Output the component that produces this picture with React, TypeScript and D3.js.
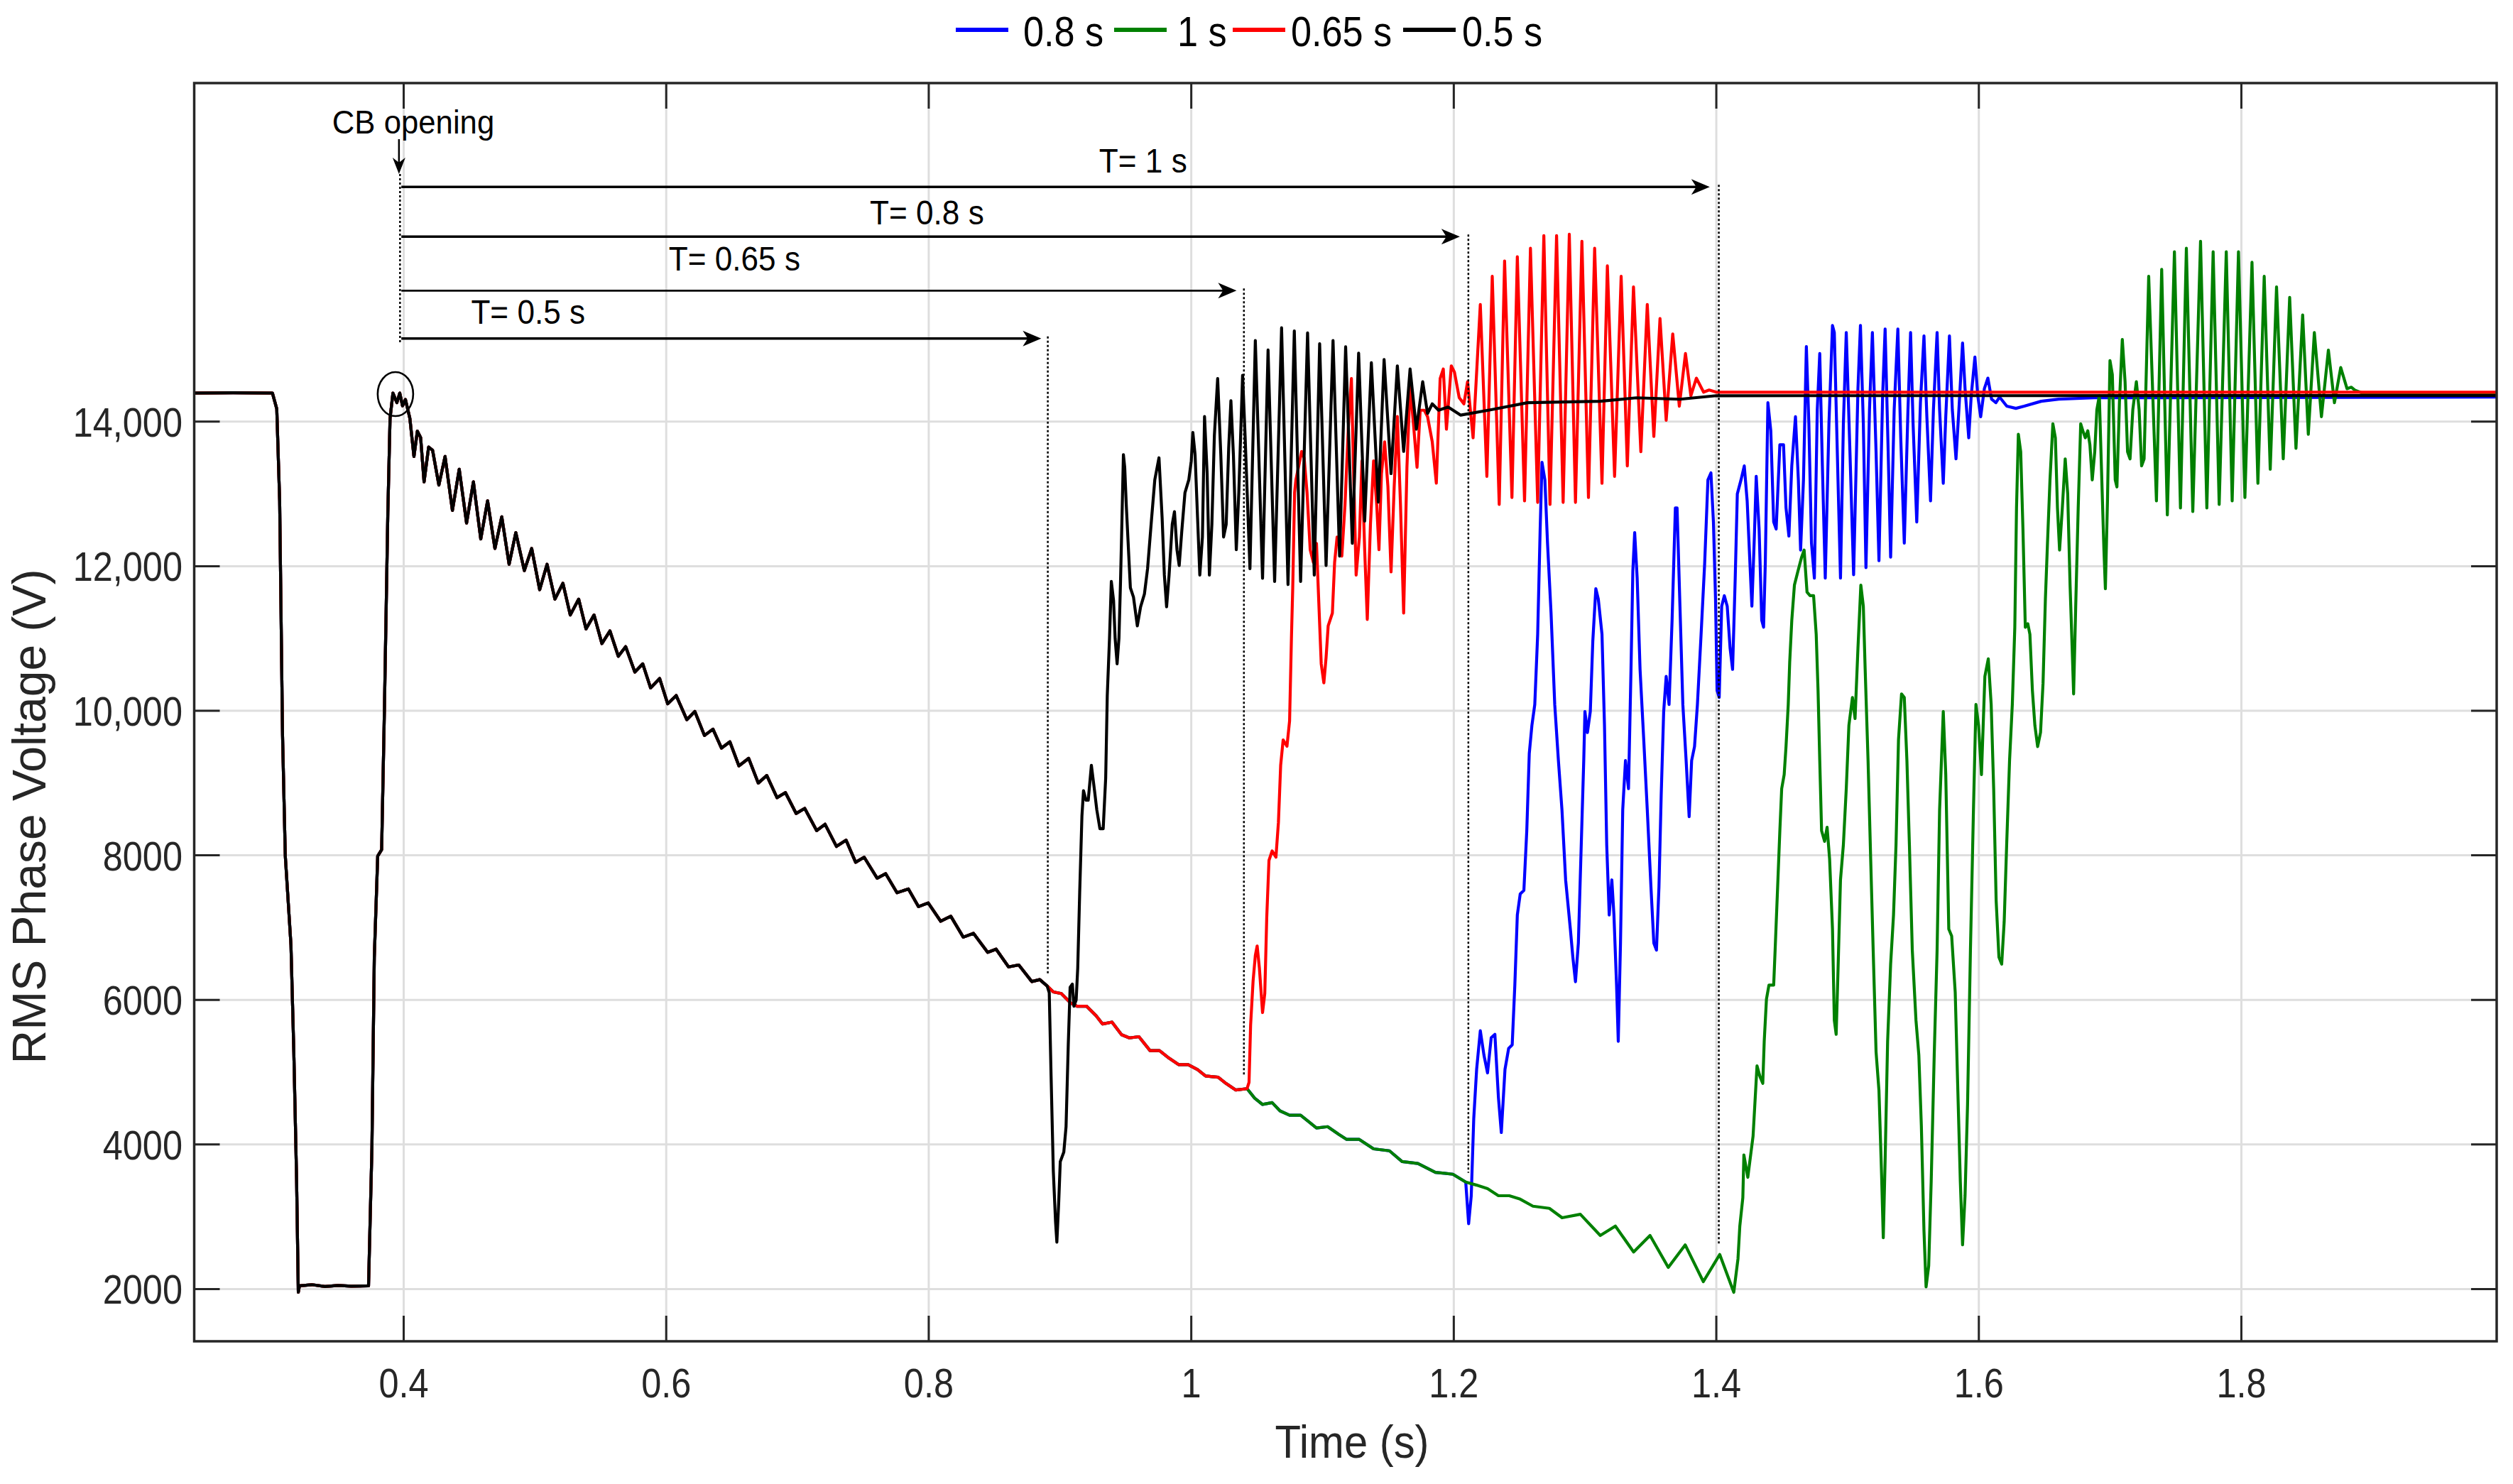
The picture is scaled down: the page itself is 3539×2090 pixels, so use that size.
import React from "react";
import * as d3 from "d3";

type P = [number, number];

// ---- Data (time s, RMS phase voltage V) ----
const preFault: P[] = [
  [0.2404, 14395], [0.27, 14400], [0.3, 14395], [0.3033, 14176], [0.3055, 12904], [0.3077, 9658],
  [0.3098, 7991], [0.3141, 6763], [0.3163, 5272], [0.3184, 3518], [0.3197, 1956], [0.3206, 2044],
  [0.33, 2060], [0.34, 2035], [0.35, 2050], [0.36, 2040], [0.3732, 2044], [0.3758, 3956],
  [0.3776, 6588], [0.3802, 7991], [0.3832, 8079], [0.3853, 10009], [0.3879, 12728], [0.3896, 14044],
  [0.3918, 14395], [0.3948, 14263], [0.397, 14395], [0.3991, 14219], [0.4013, 14307],
];

const decayShared: P[] = [
  [0.4047, 14044], [0.4078, 13518], [0.4104, 13869], [0.4129, 13781], [0.4155, 13167], [0.419, 13649],
  [0.422, 13605], [0.4268, 13123], [0.4315, 13518], [0.4371, 12772], [0.4423, 13342], [0.4479, 12597],
  [0.4531, 13167], [0.4587, 12377], [0.4639, 12904], [0.4695, 12245], [0.4747, 12684], [0.4803, 12026],
  [0.4854, 12465], [0.4919, 11939], [0.4975, 12245], [0.5036, 11675], [0.5092, 12026], [0.5152, 11544],
  [0.5213, 11763], [0.5269, 11325], [0.5333, 11544], [0.5389, 11132], [0.545, 11325], [0.551, 10930],
  [0.5571, 11105], [0.5635, 10754], [0.5691, 10886], [0.5761, 10535], [0.5821, 10649], [0.5881, 10316],
  [0.595, 10447], [0.6011, 10097], [0.6076, 10211], [0.6157, 9877], [0.6218, 9991], [0.6291, 9658],
  [0.6356, 9746], [0.6421, 9483], [0.6485, 9570], [0.6554, 9237], [0.6628, 9342], [0.6701, 9000],
  [0.6766, 9105], [0.6844, 8798], [0.6908, 8868], [0.699, 8579], [0.7055, 8649], [0.7146, 8342],
  [0.721, 8430], [0.7297, 8123], [0.737, 8211], [0.7443, 7904], [0.7508, 7974], [0.7607, 7684],
  [0.7672, 7746], [0.7758, 7483], [0.7845, 7535], [0.7922, 7290], [0.7996, 7342], [0.8091, 7088],
  [0.8168, 7158], [0.8263, 6868], [0.8341, 6921], [0.8449, 6658], [0.8513, 6702], [0.8608, 6456],
  [0.8686, 6483], [0.8785, 6254], [0.8846, 6281], [0.8902, 6193],
];

const recovery05: P[] = [
  [0.8918, 6100], [0.8932, 4947], [0.8949, 3632], [0.8966, 2930], [0.8976, 2649], [0.899, 3193],
  [0.9002, 3763], [0.9029, 3895], [0.9046, 4246], [0.9063, 5386], [0.9077, 6175], [0.9094, 6219],
  [0.9106, 5912], [0.9123, 6000], [0.9135, 6439], [0.915, 7491], [0.9167, 8544], [0.9179, 8895],
  [0.9198, 8763], [0.9215, 8763], [0.9239, 9246], [0.9263, 8895], [0.928, 8632], [0.9304, 8368],
  [0.9329, 8368], [0.9348, 9070], [0.936, 10210], [0.9377, 11000], [0.9391, 11789], [0.9408, 11526],
  [0.942, 11000], [0.9435, 10649], [0.9449, 11000], [0.9461, 11789], [0.9469, 12404], [0.9483, 13544],
  [0.9493, 13368], [0.9505, 12842], [0.9524, 12140], [0.9536, 11702], [0.956, 11570], [0.9589, 11175],
  [0.9614, 11439], [0.9643, 11614], [0.9667, 11965], [0.9698, 12667], [0.9722, 13193], [0.9754, 13500],
  [0.9778, 12667], [0.9795, 11877], [0.9812, 11439], [0.9831, 11877], [0.9855, 12579], [0.9872, 12754],
  [0.9891, 12228], [0.9908, 12009], [0.9928, 12491], [0.9952, 13018], [0.9981, 13193], [1.0, 13456],
  [1.0012, 13851], [1.0029, 13544], [1.0048, 12667], [1.0065, 11877], [1.0085, 12404], [1.0101, 14070],
  [1.0121, 13281], [1.0138, 11877], [1.0157, 12579], [1.0176, 13807], [1.0201, 14596], [1.0225, 13544],
  [1.0246, 12404], [1.0266, 12579], [1.0285, 13632], [1.0302, 14290], [1.0321, 13544], [1.0343, 12228],
  [1.0362, 13018], [1.0391, 14640], [1.041, 13807], [1.0447, 11965], [1.0488, 15123], [1.0543, 11833],
  [1.0585, 14991], [1.0635, 11789], [1.0688, 15298], [1.0737, 11746], [1.0785, 15255], [1.0833, 11789],
  [1.0886, 15228], [1.0937, 11877], [1.0978, 15079], [1.1027, 12009], [1.108, 15123], [1.113, 12140],
  [1.1176, 15035], [1.1227, 12316], [1.1275, 14947], [1.1321, 12623], [1.1372, 14816], [1.1425, 12886],
  [1.1469, 14860], [1.1522, 13281], [1.157, 14772], [1.1618, 13588], [1.1667, 14728], [1.1715, 13896],
  [1.1763, 14553], [1.18, 14114], [1.1836, 14246], [1.1884, 14158], [1.1957, 14202], [1.2053, 14090],
  [1.2285, 14165], [1.2562, 14262], [1.3115, 14282], [1.3391, 14330], [1.3723, 14310], [1.4, 14359],
  [1.9945, 14360],
];

const decay065: P[] = [
  [0.8949, 6110], [0.901, 6088], [0.9082, 5956], [0.913, 5912], [0.9203, 5912], [0.9275, 5781],
  [0.9324, 5667], [0.9396, 5693], [0.9469, 5518], [0.9529, 5474], [0.9601, 5491], [0.9686, 5298],
  [0.9758, 5298], [0.9831, 5193], [0.9903, 5105], [0.9976, 5105], [1.0048, 5035], [1.0109, 4947],
  [1.0205, 4930], [1.0266, 4842], [1.0338, 4754], [1.0425, 4772],
];

const recovery065: P[] = [
  [1.044, 4860], [1.0452, 5649], [1.0471, 6263], [1.0488, 6614], [1.0502, 6746], [1.0519, 6439],
  [1.0543, 5825], [1.056, 6088], [1.0575, 7140], [1.0592, 7930], [1.0616, 8061], [1.0645, 7974],
  [1.0664, 8456], [1.0681, 9246], [1.07, 9597], [1.0729, 9509], [1.0749, 9860], [1.0763, 11000],
  [1.0773, 11702], [1.0787, 13018], [1.0797, 13193], [1.0841, 13588], [1.086, 13500], [1.0882, 13018],
  [1.0906, 12228], [1.093, 12053], [1.0954, 12316], [1.0971, 11526], [1.099, 10649], [1.101, 10386],
  [1.1027, 10737], [1.1043, 11175], [1.1075, 11351], [1.1092, 12053], [1.1111, 12404], [1.1147, 12140],
  [1.1171, 12842], [1.1196, 13895], [1.122, 14596], [1.1237, 13281], [1.1256, 11877], [1.1281, 12404],
  [1.13, 13456], [1.1321, 12228], [1.1341, 11263], [1.1365, 12579], [1.1389, 13456], [1.1413, 12842],
  [1.143, 12228], [1.1449, 13281], [1.1473, 13719], [1.1498, 13105], [1.1522, 11921], [1.1546, 13105],
  [1.157, 14070], [1.1594, 12842], [1.1618, 11351], [1.1643, 13368], [1.1667, 14509], [1.1696, 13895],
  [1.172, 13368], [1.1744, 14158], [1.1775, 14158], [1.18, 14070], [1.1836, 13719], [1.1867, 13149],
  [1.1896, 14596], [1.192, 14728], [1.1944, 13895], [1.1981, 14772], [1.2005, 14684], [1.2041, 14333],
  [1.2077, 14246], [1.2105, 14553], [1.2147, 13777], [1.2202, 15621], [1.2252, 13243], [1.2293, 16010],
  [1.2346, 12854], [1.2387, 16223], [1.2443, 12951], [1.2484, 16282], [1.2539, 12903], [1.2584, 16398],
  [1.2639, 12883], [1.2686, 16573], [1.2733, 12854], [1.2783, 16573], [1.2833, 12883], [1.288, 16592],
  [1.2927, 12883], [1.2976, 16495], [1.3026, 12951], [1.3073, 16398], [1.3129, 13146], [1.317, 16155],
  [1.3225, 13243], [1.3275, 16010], [1.3322, 13388], [1.3369, 15864], [1.3425, 13583], [1.3474, 15621],
  [1.3524, 13796], [1.3571, 15427], [1.3618, 14019], [1.3668, 15214], [1.3718, 14214], [1.3765, 14942],
  [1.3806, 14359], [1.3848, 14602], [1.3903, 14408], [1.3945, 14437], [1.4, 14408], [1.9945, 14408],
];

const decay08: P[] = [
  [1.0483, 4640], [1.0543, 4553], [1.0616, 4579], [1.0676, 4465], [1.0749, 4404], [1.0833, 4404],
  [1.0894, 4316], [1.0954, 4228], [1.1039, 4246], [1.1123, 4140], [1.1184, 4070], [1.128, 4070],
  [1.1389, 3939], [1.151, 3912], [1.1606, 3763], [1.1727, 3737], [1.186, 3614], [1.1993, 3588],
  [1.2091, 3480],
];

const recovery08: P[] = [
  [1.2113, 2903], [1.2133, 3291], [1.2152, 4359], [1.2174, 5039], [1.2202, 5573], [1.223, 5233],
  [1.2257, 4990], [1.2285, 5476], [1.2313, 5524], [1.234, 4650], [1.2362, 4165], [1.239, 5039],
  [1.2418, 5330], [1.2445, 5379], [1.2465, 6204], [1.2484, 7175], [1.2506, 7466], [1.2534, 7515],
  [1.2556, 8340], [1.2575, 9408], [1.2595, 9796], [1.2617, 10087], [1.2639, 11058], [1.2658, 12515],
  [1.2672, 13437], [1.2694, 13194], [1.2714, 12320], [1.2741, 11350], [1.2769, 10087], [1.2797, 9311],
  [1.2824, 8631], [1.2852, 7660], [1.2888, 6980], [1.2907, 6592], [1.2927, 6252], [1.2949, 6786],
  [1.2971, 8146], [1.299, 9311], [1.2999, 9990], [1.3018, 9699], [1.304, 9990], [1.3059, 10961],
  [1.3082, 11689], [1.3101, 11544], [1.3129, 11058], [1.3148, 9796], [1.3165, 8146], [1.3184, 7175],
  [1.3204, 7660], [1.322, 7175], [1.324, 6204], [1.3253, 5427], [1.327, 6786], [1.3287, 8631],
  [1.3308, 9311], [1.3331, 8922], [1.335, 10573], [1.3364, 11932], [1.3378, 12466], [1.3397, 11835],
  [1.3419, 10573], [1.3447, 9602], [1.3474, 8631], [1.3502, 7563], [1.3524, 6786], [1.3544, 6689],
  [1.3563, 7563], [1.358, 8825], [1.3599, 9990], [1.3618, 10476], [1.364, 10087], [1.3663, 11252],
  [1.3688, 12806], [1.3701, 12806], [1.3723, 11447], [1.3745, 10087], [1.377, 9311], [1.3793, 8534],
  [1.3812, 9311], [1.3834, 9505], [1.3856, 10087], [1.3884, 11058], [1.3911, 12029], [1.3936, 13194],
  [1.3959, 13291], [1.3978, 12612], [1.3994, 11544], [1.4006, 10282], [1.4022, 10185], [1.4041, 11447],
  [1.4061, 11592], [1.4083, 11447], [1.4105, 10864], [1.4124, 10573], [1.4144, 11835], [1.416, 13000],
  [1.4188, 13194], [1.4213, 13388], [1.4235, 12903], [1.4254, 12126], [1.4271, 11447], [1.429, 12417],
  [1.4304, 13243], [1.4326, 12515], [1.4346, 11252], [1.436, 11156], [1.4373, 12029], [1.4393, 14262],
  [1.4415, 13874], [1.4437, 12612], [1.4456, 12515], [1.4484, 13680], [1.4512, 13680], [1.4531, 12806],
  [1.4553, 12417], [1.4575, 13388], [1.4603, 14068], [1.4625, 13194], [1.4642, 12223], [1.4664, 13194],
  [1.4686, 15039], [1.4705, 13971], [1.4725, 12320], [1.4747, 11835], [1.4769, 14165], [1.4788, 14942],
  [1.4808, 13388], [1.483, 11835], [1.4858, 13971], [1.4885, 15330], [1.4899, 15233], [1.4927, 13194],
  [1.4946, 11835], [1.4968, 13971], [1.499, 15233], [1.5018, 13583], [1.5046, 11883], [1.5079, 14456],
  [1.5098, 15330], [1.512, 13971], [1.514, 11980], [1.5167, 14165], [1.5189, 15233], [1.5217, 13583],
  [1.5239, 12077], [1.5267, 14359], [1.5286, 15282], [1.5308, 13680], [1.5328, 12126], [1.5355, 14165],
  [1.5383, 15282], [1.5405, 13777], [1.5432, 12320], [1.546, 14165], [1.548, 15233], [1.5499, 13971],
  [1.5527, 12612], [1.5555, 14262], [1.5582, 15185], [1.5604, 14068], [1.5632, 12903], [1.5654, 14165],
  [1.5682, 15233], [1.5701, 14165], [1.5729, 13146], [1.5748, 14068], [1.5776, 15185], [1.5798, 14165],
  [1.5826, 13485], [1.5848, 14165], [1.5876, 15088], [1.5895, 14456], [1.5923, 13777], [1.5942, 14359],
  [1.597, 14893], [1.5992, 14359], [1.6014, 14068], [1.6042, 14456], [1.6069, 14602], [1.6097, 14311],
  [1.613, 14262], [1.6158, 14340], [1.6213, 14214], [1.6282, 14184], [1.6346, 14214], [1.6475, 14282],
  [1.6609, 14311], [1.6878, 14330], [1.9945, 14340],
];

const decay1: P[] = [
  [1.2174, 3437], [1.2257, 3388], [1.234, 3291], [1.2423, 3291], [1.2506, 3243], [1.2603, 3146],
  [1.2728, 3116], [1.2825, 2986], [1.2964, 3034], [1.3116, 2741], [1.3231, 2871], [1.337, 2512],
  [1.3495, 2741], [1.3634, 2299], [1.3763, 2610], [1.3901, 2102], [1.4026, 2478], [1.4133, 1955],
];

const recovery1: P[] = [
  [1.4165, 2417], [1.4179, 2871], [1.4202, 3264], [1.421, 3854], [1.424, 3546], [1.428, 4116],
  [1.431, 5087], [1.4332, 4942], [1.4354, 4845], [1.4365, 5427], [1.4382, 6010], [1.4401, 6204],
  [1.4437, 6204], [1.4448, 6689], [1.4465, 7466], [1.4484, 8340], [1.4498, 8922], [1.4517, 9117],
  [1.4531, 9505], [1.4548, 10087], [1.4559, 10670], [1.4575, 11252], [1.4595, 11738], [1.4622, 11932],
  [1.465, 12126], [1.4669, 12223], [1.4691, 11641], [1.4714, 11592], [1.4741, 11592], [1.4761, 11058],
  [1.4775, 10282], [1.4788, 9311], [1.4802, 8340], [1.4825, 8194], [1.4844, 8388], [1.4863, 7951],
  [1.4885, 6980], [1.4899, 5718], [1.4913, 5524], [1.4927, 6398], [1.4946, 7660], [1.4968, 8146],
  [1.499, 8922], [1.501, 9796], [1.5037, 10184], [1.5057, 9893], [1.5079, 10864], [1.5101, 11738],
  [1.512, 11447], [1.5134, 10573], [1.5156, 9311], [1.5176, 7951], [1.5195, 6689], [1.5217, 5282],
  [1.5239, 4747], [1.5259, 3583], [1.5272, 2709], [1.5286, 3777], [1.5305, 5427], [1.5328, 6495],
  [1.535, 7175], [1.5369, 8146], [1.5388, 9602], [1.5411, 10233], [1.5432, 10184], [1.5452, 9311],
  [1.5471, 8146], [1.5493, 6689], [1.5521, 5718], [1.5543, 5233], [1.5562, 4262], [1.5582, 2806],
  [1.5598, 2029], [1.5618, 2320], [1.5637, 3485], [1.566, 5233], [1.5682, 6689], [1.5701, 8631],
  [1.5729, 9990], [1.5748, 9117], [1.5771, 6980], [1.5793, 6883], [1.582, 6107], [1.584, 4747],
  [1.5859, 3485], [1.5876, 2612], [1.5895, 3291], [1.5914, 4553], [1.5936, 6689], [1.5959, 8631],
  [1.5978, 10087], [1.5998, 9796], [1.602, 9117], [1.6046, 10476], [1.6072, 10718], [1.6094, 10087],
  [1.6113, 8922], [1.6132, 7369], [1.6153, 6592], [1.6174, 6495], [1.6193, 7078], [1.6212, 8146],
  [1.6234, 9311], [1.6255, 10087], [1.6274, 11155], [1.6287, 12806], [1.6301, 13825], [1.6319, 13583],
  [1.6336, 12515], [1.6354, 11155], [1.6373, 11204], [1.6389, 11058], [1.6408, 10282], [1.6427, 9796],
  [1.6448, 9505], [1.647, 9699], [1.6489, 10379], [1.6507, 11544], [1.6523, 12320], [1.6542, 13194],
  [1.6564, 13971], [1.6583, 13777], [1.6599, 12806], [1.6615, 12223], [1.6636, 12806], [1.6658, 13485],
  [1.6677, 13000], [1.6695, 11738], [1.6711, 10864], [1.6722, 10233], [1.6738, 11447], [1.6757, 12806],
  [1.6776, 13971], [1.6792, 13874], [1.6811, 13777], [1.683, 13874], [1.6846, 13680], [1.6864, 13194],
  [1.6883, 13583], [1.6899, 14165], [1.6918, 14359], [1.6932, 13485], [1.6953, 12223], [1.6964, 11689],
  [1.698, 12903], [1.6999, 14845], [1.7017, 14651], [1.7039, 13194], [1.7052, 13097], [1.7071, 14262],
  [1.7093, 15136], [1.7114, 14553], [1.7133, 13583], [1.7152, 13485], [1.7173, 14165], [1.72, 14553],
  [1.7221, 14165], [1.724, 13388], [1.7259, 13485], [1.7294, 16010], [1.7353, 12903], [1.7393, 16107],
  [1.7436, 12709], [1.749, 16350], [1.7536, 12806], [1.7581, 16398], [1.763, 12757], [1.7689, 16495],
  [1.7737, 12806], [1.7785, 16350], [1.7831, 12854], [1.7885, 16350], [1.793, 12903], [1.7978, 16350],
  [1.8027, 12951], [1.8081, 16204], [1.8126, 13146], [1.8174, 16010], [1.822, 13340], [1.8268, 15864],
  [1.8319, 13485], [1.8368, 15718], [1.8416, 13631], [1.8467, 15476], [1.851, 13825], [1.8556, 15233],
  [1.861, 14068], [1.8663, 14990], [1.8709, 14262], [1.8757, 14748], [1.8805, 14456], [1.8838, 14476],
  [1.8864, 14437], [1.8945, 14379], [1.9945, 14370],
];

const seriesNames = ["0.8 s", "1 s", "0.65 s", "0.5 s"];
const seriesColors = ["#0000ff", "#008000", "#ff0000", "#000000"];

const xTicks = [0.4, 0.6, 0.8, 1, 1.2, 1.4, 1.6, 1.8];
const yTicks = [2000, 4000, 6000, 8000, 10000, 12000, 14000];

// Annotation arrows: label, arrow end time, arrow level (V), drop line time, drop line bottom (V), label centre time
const arrowLabels = ["T= 1 s", "T= 0.8 s", "T= 0.65 s", "T= 0.5 s"];
const arrowEnds = [1.395, 1.2046, 1.0345, 0.8857];
const arrowLevels = [17247, 16559, 15812, 15150];
const dropTimes = [1.4019, 1.2111, 1.0401, 0.8907];
const dropBottoms = [2614, 3607, 4941, 6346];
const labelTimes = [0.9633, 0.7986, 0.652, 0.4948];
const cbTime = 0.3972;

// ---- Layout ----
const W = 3539;
const H = 2090;
const L = 273.5, R = 3516, T = 117, B = 1889;
const FONT = "'Liberation Sans', Arial, Helvetica, sans-serif";

function SText(props: {
  x: number; y: number; sx?: number; size: number; anchor?: string; rotate?: number;
  fill?: string; children: React.ReactNode;
}) {
  const { x, y, sx = 1, size, anchor = "start", rotate, fill = "#262626", children } = props;
  const tr = `translate(${x},${y})${rotate ? ` rotate(${rotate})` : ""} scale(${sx},1)`;
  return (
    <text transform={tr} fontSize={size} textAnchor={anchor as any} fontFamily={FONT} fill={fill}>
      {children}
    </text>
  );
}

export default function App() {
  const x = d3.scaleLinear().domain([0.2404, 1.9945]).range([L, R]);
  const y = d3.scaleLinear().domain([1277, 18684]).range([B, T]);
  const line = d3.line<P>().x((d) => x(d[0])).y((d) => y(d[1]));

  const base = [...preFault, ...decayShared];
  const blue = [...base, ...decay065, ...decay08, ...recovery08];
  const green = [...base, ...decay065, ...decay08, ...decay1, ...recovery1];
  const red = [...base, ...decay065, ...recovery065];
  const black = [...base, ...recovery05];
  const series = [blue, green, red, black];

  const yFmt = (v: number) => (v >= 10000 ? d3.format(",")(v) : String(v));
  const xFmt = (v: number) => d3.format("~g")(v);

  const arrowHead = (tx: number, ty: number) =>
    `M${tx},${ty} L${tx - 26},${ty - 11} L${tx - 19},${ty} L${tx - 26},${ty + 11} Z`;

  const legendLineX = [1346, 1569, 1736, 1976];
  const legendTextX = [1441, 1658, 1818, 2059];

  const cbX = x(cbTime);
  const startX = x(0.3982);

  return (
    <svg width={W} height={H} viewBox={`0 0 ${W} ${H}`}
      style={{ position: "absolute", left: 0, top: 0, background: "#fff" }}>
      <rect x={0} y={0} width={W} height={H} fill="#fff" />
      <defs>
        <clipPath id="plotClip">
          <rect x={L} y={T} width={R - L} height={B - T} />
        </clipPath>
      </defs>

      {/* grid */}
      <g stroke="#dedede" strokeWidth={3}>
        {xTicks.map((t) => (
          <line key={"gx" + t} x1={x(t)} x2={x(t)} y1={T} y2={B} />
        ))}
        {yTicks.map((v) => (
          <line key={"gy" + v} x1={L} x2={R} y1={y(v)} y2={y(v)} />
        ))}
      </g>

      {/* series */}
      <g clipPath="url(#plotClip)" fill="none" strokeLinejoin="round" strokeLinecap="round">
        {series.map((s, i) => (
          <path key={i} d={line(s) || ""} stroke={seriesColors[i]} strokeWidth={4.2} />
        ))}
      </g>

      {/* annotations */}
      <g>
        {/* CB opening */}
        <SText x={582} y={188} size={47} sx={0.93} anchor="middle" fill="#000">CB opening</SText>
        <line x1={cbX - 1.5} x2={cbX - 1.5} y1={196} y2={230} stroke="#000" strokeWidth={2.5} />
        <path d={`M${cbX - 1.5},245 L${cbX - 10.5},222 L${cbX - 1.5},229 L${cbX + 7.5},222 Z`} fill="#000" />
        <line x1={cbX} x2={cbX} y1={245} y2={y(15088)} stroke="#000" strokeWidth={2.5} strokeDasharray="3 3" />
        {/* circle at reclosing peak */}
        <ellipse cx={x(0.3937)} cy={y(14381)} rx={25} ry={31} fill="none" stroke="#000" strokeWidth={2.6} />

        {arrowLabels.map((lab, i) => {
          const ay = y(arrowLevels[i]);
          const ex = x(arrowEnds[i]);
          const sw = i === 2 ? 2.8 : 3.6;
          const offs = [-20.6, -17, -28, -21];
          return (
            <g key={lab}>
              <line x1={startX} x2={ex - 18} y1={ay} y2={ay} stroke="#000" strokeWidth={sw} />
              <path d={arrowHead(ex, ay)} fill="#000" />
              <line x1={x(dropTimes[i])} x2={x(dropTimes[i])} y1={ay - 3} y2={y(dropBottoms[i])}
                stroke="#000" strokeWidth={2.5} strokeDasharray="3 3" />
              <SText x={x(labelTimes[i])} y={ay + offs[i]} size={48} sx={0.92} anchor="middle" fill="#000">
                {lab}
              </SText>
            </g>
          );
        })}
      </g>

      {/* axes frame */}
      <rect x={L} y={T} width={R - L} height={B - T} fill="none" stroke="#262626" strokeWidth={3.5} />
      <g stroke="#262626" strokeWidth={3}>
        {xTicks.map((t) => (
          <g key={"tx" + t}>
            <line x1={x(t)} x2={x(t)} y1={B} y2={B - 36} />
            <line x1={x(t)} x2={x(t)} y1={T} y2={T + 36} />
          </g>
        ))}
        {yTicks.map((v) => (
          <g key={"ty" + v}>
            <line x1={L} x2={L + 36} y1={y(v)} y2={y(v)} />
            <line x1={R} x2={R - 36} y1={y(v)} y2={y(v)} />
          </g>
        ))}
      </g>

      {/* tick labels */}
      {xTicks.map((t) => (
        <SText key={"lx" + t} x={x(t)} y={1968} size={58} sx={0.87} anchor="middle">{xFmt(t)}</SText>
      ))}
      {yTicks.map((v) => (
        <SText key={"ly" + v} x={257} y={y(v) + 21} size={58} sx={0.87} anchor="end">{yFmt(v)}</SText>
      ))}

      {/* axis labels */}
      <SText x={1904} y={2053} size={65} sx={0.92} anchor="middle">Time (s)</SText>
      <SText x={64} y={1150} size={66} rotate={-90} anchor="middle">RMS Phase Voltage (V)</SText>

      {/* legend */}
      {seriesNames.map((n, i) => (
        <g key={n}>
          <line x1={legendLineX[i]} x2={legendLineX[i] + 74} y1={42} y2={42}
            stroke={seriesColors[i]} strokeWidth={6} />
          <SText x={legendTextX[i]} y={65} size={60} sx={0.87} fill="#000">{n}</SText>
        </g>
      ))}
    </svg>
  );
}
